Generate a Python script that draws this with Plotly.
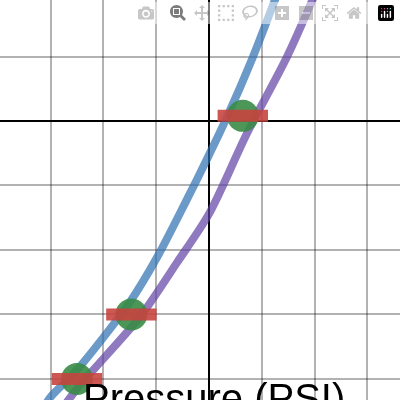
import plotly.graph_objects as go

blue_x = [-3.2, -3.01, -2.50, -1.50, -0.98, -0.42, -0.02, 0.34, 0.83, 1.25, 1.35]
blue_y = [-4.55, -4.29, -3.86, -2.81, -2.11, -1.22, -0.56, 0.06, 0.99, 1.88, 2.1]
purple_x = [-2.9, -2.5, -1.31, -0.61, 0.0, 0.72, 1.48, 2.05]
purple_y = [-4.6, -4.15, -3.04, -2.2, -1.44, -0.19, 1.0, 2.05]
pt_x = [-2.5, -1.47, 0.64]
pt_y = [-4.0, -3.0, 0.08]

fig = go.Figure()
fig.add_trace(go.Scatter(x=blue_x, y=blue_y, mode="lines", line=dict(color="#2d70b3", width=8, shape="spline", smoothing=0.8), opacity=0.7))
fig.add_trace(go.Scatter(x=purple_x, y=purple_y, mode="lines", line=dict(color="#6042a6", width=8, shape="spline", smoothing=0.8), opacity=0.7))
fig.add_trace(go.Scatter(x=pt_x, y=pt_y, mode="markers", marker=dict(color="#388c46", size=32), opacity=0.9))
fig.add_trace(go.Scatter(x=pt_x, y=pt_y, mode="markers", marker=dict(symbol="line-ew", size=36, line=dict(color="#c74440", width=12)), opacity=0.9))
fig.add_annotation(x=0.1, y=-3.92, text="Pressure (PSI)", showarrow=False, yanchor="top", font=dict(size=40, color="black", family="Liberation Sans"))
ax = dict(showgrid=True, gridcolor="rgba(0,0,0,0.3)", gridwidth=1.5, dtick=1, zeroline=True, zerolinecolor="black", zerolinewidth=2, showticklabels=False, ticks="")
fig.update_layout(width=400, height=400, margin=dict(l=0, r=0, t=0, b=0), plot_bgcolor="white", paper_bgcolor="white", showlegend=False,
                  xaxis=dict(range=[-3.958, 3.617], **ax), yaxis=dict(range=[-4.326, 1.876], **ax))
fig.write_html("out.html", post_script="document.body.style.margin='0';document.body.style.overflow='hidden';")
